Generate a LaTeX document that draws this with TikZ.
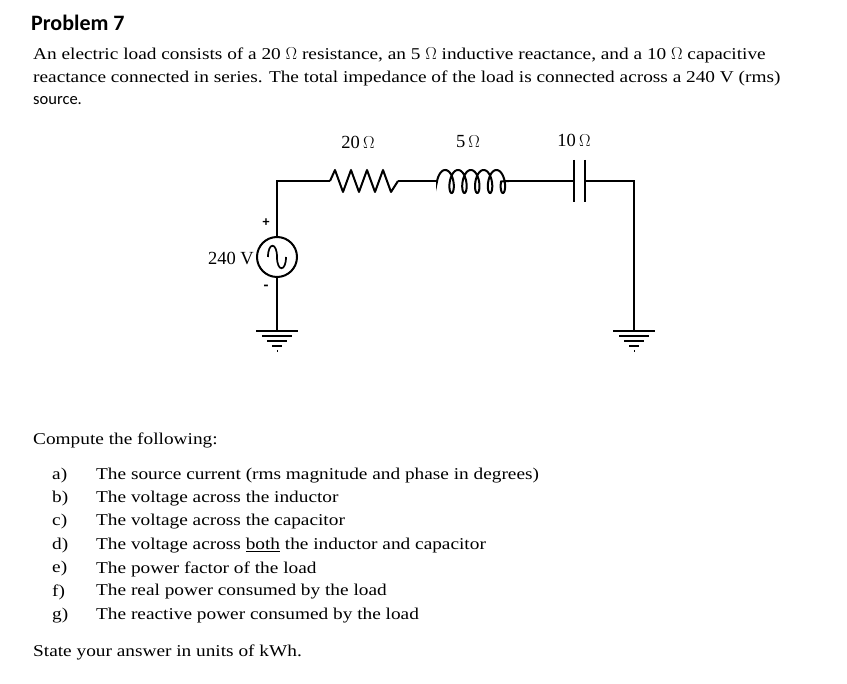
\documentclass[tikz,border=0pt]{standalone}
\usepackage{fontspec}
\setmainfont{Liberation Serif}[FakeStretch=1.17]
\newfontfamily\calib{Carlito}
\newfontfamily\tnrfont{Liberation Serif}
\begin{document}
\begin{tikzpicture}[x=1pt,y=-1pt,
  txt/.style={anchor=west,inner sep=0pt,font=\fontsize{16.5}{18}\selectfont},
  lbl/.style={inner sep=0pt,font=\tnrfont\fontsize{18.5}{20}\selectfont},
  wire/.style={line width=2pt},
  gnd/.style={line width=1.6pt}]
\useasboundingbox (0,0) rectangle (847,684);
\node[txt,font=\calib\bfseries\fontsize{22}{24}\selectfont] (title) at (31,23) {Problem 7};
\node[txt] (l1) at (33,55) {An electric load consists of a 20 $\Omega$ resistance, an 5 $\Omega$ inductive reactance, and a 10 $\Omega$ capacitive};
\node[txt] (l2) at (33,78) {reactance connected in series. The total impedance of the load is connected across a 240 V (rms)};
\node[txt,font=\calib\fontsize{16.5}{18}\selectfont] (l3) at (33,101) {source.};
% circuit
\coordinate (tl) at (277,181);
\coordinate (r1) at (330,181);
\coordinate (r2) at (398,181);
\coordinate (i1) at (437,181);
\coordinate (i2) at (509,181);
\coordinate (c1) at (574,181);
\coordinate (c2) at (585,181);
\coordinate (tr) at (634,181);
\node[circle,draw,line width=2pt,minimum size=40pt,inner sep=0pt] (src) at (277,257) {};
\coordinate (gl) at (277,331);
\coordinate (gr) at (634,331);
\draw[wire] (src.north) -- (tl) -- (r1);
\draw[wire,line join=round] (r1) -- ++(5,-11) -- ++(8,22) -- ++(8,-22) -- ++(8,22) -- ++(8,-22) -- ++(8,22) -- ++(8,-22) -- ++(8,22) -- (r2);
\draw[wire] (r2) -- (i1);
\draw[wire] (i1) -- plot[domain=-1.5708:29.845,samples=240,smooth] ({442+2.04*(\x+1.5708)+5*sin(\x r)},{181.5-11.5*cos(\x r)}) -- (i2);
\draw[wire] (i2) -- (c1);
\draw[wire] (c1) ++(0,-21) -- ++(0,42);
\draw[wire] (c2) ++(0,-21) -- ++(0,42);
\draw[wire] (c2) -- (tr) -- (gr);
\draw[wire] (src.south) -- (gl);
\draw[line width=1.7pt] ([xshift=-9pt]src.center) .. controls +(0,-15) and +(0,-15) .. (src.center) .. controls +(0,15) and +(0,15) .. ([xshift=9pt]src.center);
\foreach \g in {gl,gr}{
  \draw[gnd] ([shift={(-21,0)}]\g) -- ([shift={(21,0)}]\g);
  \draw[gnd] ([shift={(-15,5)}]\g) -- ([shift={(15,5)}]\g);
  \draw[gnd] ([shift={(-10,10)}]\g) -- ([shift={(10,10)}]\g);
  \draw[gnd] ([shift={(-5,15)}]\g) -- ([shift={(5,15)}]\g);
  \draw[line width=0.6pt] ([shift={(0,19)}]\g) -- ([shift={(0,21)}]\g);
}
\node[lbl] (lr) at (358,142) {20\,$\Omega$};
\node[lbl] (li) at (468,142) {5\,$\Omega$};
\node[lbl] (lc) at (574,140) {10\,$\Omega$};
\node[lbl,anchor=east] (lv) at (254,258) {240 V};
\node[inner sep=0pt,font=\calib\bfseries\fontsize{14}{14}\selectfont] (plus) at (266,223) {+};
\node[inner sep=0pt,font=\calib\bfseries\fontsize{16}{16}\selectfont] (minus) at (266,288) {-};
% questions
\node[txt] (q0) at (33,440) {Compute the following:};
\foreach \y/\l/\t in {476/a)/The source current (rms magnitude and phase in degrees),
  499/b)/The voltage across the inductor,
  522/c)/The voltage across the capacitor,
  546/d)/The voltage across \underline{both} the inductor and capacitor,
  569/e)/The power factor of the load,
  592/f)/The real power consumed by the load,
  616/g)/The reactive power consumed by the load}{
  \node[txt] at (52,\y) {\l};
  \node[txt] at (96,\y) {\t};
}
\node[txt] (q9) at (33,652) {State your answer in units of kWh.};
\end{tikzpicture}
\end{document}
